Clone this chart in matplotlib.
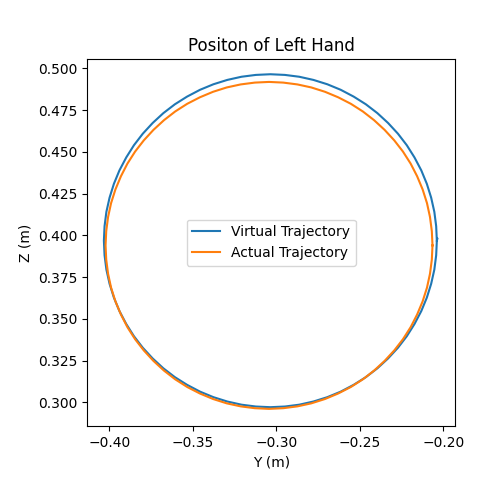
import matplotlib
matplotlib.use("Agg")
import matplotlib.pyplot as plt

# points, every 5 degrees starting at the right side
virtual_y = [-0.2039, -0.2043, -0.2054, -0.2073, -0.2099, -0.2132, -0.2173, -0.2219, -0.2272,
             -0.2331, -0.2395, -0.2464, -0.2537, -0.2615, -0.2695, -0.2778, -0.2863, -0.2949,
             -0.3036, -0.3123, -0.3209, -0.3294, -0.3377, -0.3457, -0.3535, -0.3608, -0.3677,
             -0.3741, -0.3800, -0.3853, -0.3899, -0.3940, -0.3973, -0.3999, -0.4018, -0.4029,
             -0.4033, -0.4029, -0.4018, -0.3999, -0.3973, -0.3940, -0.3899, -0.3853, -0.3800,
             -0.3741, -0.3677, -0.3608, -0.3535, -0.3457, -0.3377, -0.3294, -0.3209, -0.3123,
             -0.3036, -0.2949, -0.2863, -0.2778, -0.2695, -0.2615, -0.2537, -0.2464, -0.2395,
             -0.2331, -0.2272, -0.2219, -0.2173, -0.2132, -0.2099, -0.2073, -0.2054, -0.2043,
             -0.2039, -0.2036]
virtual_z = [0.3968, 0.4055, 0.4141, 0.4226, 0.4309, 0.4389, 0.4467, 0.4540, 0.4609,
             0.4673, 0.4732, 0.4785, 0.4831, 0.4872, 0.4905, 0.4931, 0.4950, 0.4961,
             0.4965, 0.4961, 0.4950, 0.4931, 0.4905, 0.4872, 0.4831, 0.4785, 0.4732,
             0.4673, 0.4609, 0.4540, 0.4467, 0.4389, 0.4309, 0.4226, 0.4141, 0.4055,
             0.3968, 0.3881, 0.3795, 0.3710, 0.3627, 0.3547, 0.3469, 0.3396, 0.3327,
             0.3263, 0.3204, 0.3151, 0.3105, 0.3064, 0.3031, 0.3005, 0.2986, 0.2975,
             0.2971, 0.2975, 0.2986, 0.3005, 0.3031, 0.3064, 0.3105, 0.3151, 0.3204,
             0.3263, 0.3327, 0.3396, 0.3469, 0.3547, 0.3627, 0.3710, 0.3795, 0.3881,
             0.3968, 0.3980]

actual_y = [-0.2065, -0.2069, -0.2080, -0.2098, -0.2124, -0.2157, -0.2196, -0.2242, -0.2294,
            -0.2352, -0.2415, -0.2482, -0.2554, -0.2630, -0.2709, -0.2791, -0.2874, -0.2959,
            -0.3044, -0.3129, -0.3214, -0.3297, -0.3379, -0.3458, -0.3534, -0.3606, -0.3673,
            -0.3736, -0.3794, -0.3846, -0.3892, -0.3931, -0.3964, -0.3990, -0.4008, -0.4019,
            -0.4023, -0.4019, -0.4008, -0.3990, -0.3964, -0.3931, -0.3892, -0.3846, -0.3794,
            -0.3736, -0.3673, -0.3606, -0.3534, -0.3458, -0.3379, -0.3297, -0.3214, -0.3129,
            -0.3044, -0.2959, -0.2874, -0.2791, -0.2709, -0.2630, -0.2554, -0.2482, -0.2415,
            -0.2352, -0.2294, -0.2242, -0.2196, -0.2157, -0.2124, -0.2098, -0.2080, -0.2069,
            -0.2065]
actual_z = [0.3940, 0.4025, 0.4110, 0.4193, 0.4275, 0.4354, 0.4430, 0.4502, 0.4569,
            0.4632, 0.4690, 0.4742, 0.4788, 0.4827, 0.4860, 0.4886, 0.4904, 0.4915,
            0.4919, 0.4915, 0.4904, 0.4886, 0.4860, 0.4827, 0.4788, 0.4742, 0.4690,
            0.4632, 0.4569, 0.4502, 0.4430, 0.4354, 0.4275, 0.4193, 0.4110, 0.4025,
            0.3940, 0.3855, 0.3770, 0.3687, 0.3605, 0.3526, 0.3450, 0.3378, 0.3311,
            0.3248, 0.3190, 0.3138, 0.3092, 0.3053, 0.3020, 0.2994, 0.2976, 0.2965,
            0.2961, 0.2965, 0.2976, 0.2994, 0.3020, 0.3053, 0.3092, 0.3138, 0.3190,
            0.3248, 0.3311, 0.3378, 0.3450, 0.3526, 0.3605, 0.3687, 0.3770, 0.3855,
            0.3940]

fig = plt.figure(figsize=(4.8, 4.8), dpi=100)
ax = fig.add_axes([0.182, 0.111, 0.766, 0.767])

ax.plot(virtual_y, virtual_z, label="Virtual Trajectory")
ax.plot(actual_y, actual_z, label="Actual Trajectory")
ax.set_xlim(-0.4132, -0.1930)
ax.set_ylim(0.2856, 0.5057)
ax.set_aspect("equal")

ax.set_title("Positon of Left Hand")
ax.set_xlabel("Y (m)")
ax.set_ylabel("Z (m)")
ax.legend(loc="center")

fig.savefig("out.png", dpi=100)
